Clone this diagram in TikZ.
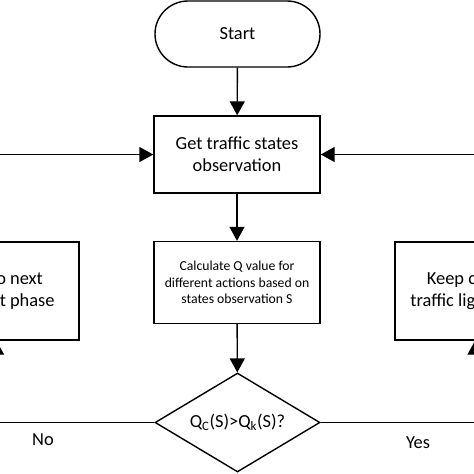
\documentclass[tikz,border=0pt]{standalone}
\usepackage{fontspec}
\setmainfont{Carlito}
\usetikzlibrary{arrows.meta,shapes.geometric}

\begin{document}
\begin{tikzpicture}[x=1pt,y=-1pt,line width=1.4pt,>={Triangle[length=14pt,width=15pt]},
  big/.style={font=\fontsize{18.4}{21.7}\selectfont},
  small/.style={font=\fontsize{13.7}{16.7}\selectfont},
  box/.style={draw,rectangle,align=center,inner sep=0pt},
  term/.style={box,rounded corners=33pt,minimum width=165pt,minimum height=66pt},
  decision/.style={draw,diamond,aspect=1.67,minimum width=165pt,minimum height=99pt,inner sep=0pt}]
  \useasboundingbox (0,0) rectangle (474,474);
  \clip (0,0) rectangle (474,474);
  % bloques
  \node[term,big] (start) at (237.5,34) {Start};
  \node[box,big,minimum width=166pt,minimum height=77pt] (obs) at (237,154.5) {Get traffic states\\observation};
  \node[box,small,minimum width=166pt,minimum height=82pt] (calc) at (237,282.5) {Calculate Q value for\\different actions based on\\states observation S};
  \node[decision,big] (dec) at (237.5,422.5) {Q\textsubscript{C}(S)>Q\textsubscript{k}(S)?};
  \node[box,big,minimum width=178pt,minimum height=98pt] (swit) at (-10,291) {Switch to next\\traffic light phase};
  \node[box,big,minimum width=160pt,minimum height=98pt] (keep) at (475,291) {Keep current\\traffic light phase};
  % giros
  \coordinate (noturn) at (-3.5,422.5);
  \coordinate (yesturn) at (475,422.5);
  \coordinate (keepback) at (490,242);
  % flechas
  \draw[->] (start) -- (obs);
  \draw[->] (obs) -- (calc);
  \draw[->] (calc) -- (dec);
  \draw[->] (dec.west) -- (noturn) -- (noturn |- swit.south);
  \draw[->] (dec.east) -- (yesturn) -- (yesturn |- keep.south);
  \draw[->] (swit.north) |- (obs.west);
  \draw[->] (keepback) |- (obs.east);
  % etiquetas
  \node[big] (nolbl) at (43,440) {No};
  \node[big] (yeslbl) at (418,443) {Yes};
\end{tikzpicture}
\end{document}
